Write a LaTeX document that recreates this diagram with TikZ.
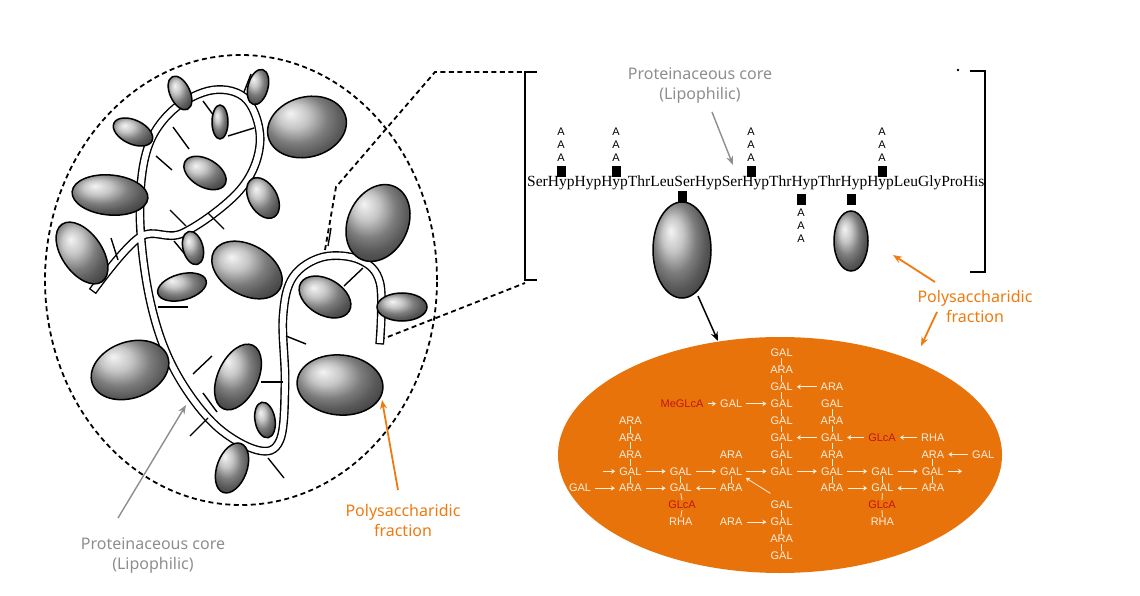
\documentclass[tikz,border=0pt]{standalone}
\usepackage{fontspec}
\setmainfont{Liberation Serif}
\newfontfamily\lab{Noto Sans}
\newfontfamily\sug{Liberation Sans}
\usetikzlibrary{shapes.geometric,arrows.meta}
\definecolor{lgray}{HTML}{8E8E8E}
\definecolor{orng}{HTML}{EE7A10}
\definecolor{oell}{HTML}{E8730B}
\definecolor{cream}{HTML}{FDEEDD}
\definecolor{dred}{HTML}{C0160C}
\tikzset{
 blob/.style={ellipse,draw=black,line width=1.5pt,shading=ball,ball color=gray!60,inner sep=0pt},
 tick/.style={line width=1.4pt},
 dsh/.style={line width=1.8pt,dash pattern=on 5pt off 3.5pt},
 sq/.style={fill=black,minimum width=9pt,minimum height=11pt,inner sep=0pt},
 aa/.style={font=\sug\fontsize{11}{11}\selectfont,inner sep=0pt},
 glab/.style={font=\lab\fontsize{16}{20}\selectfont,text=lgray,align=center},
 olab/.style={font=\lab\fontsize{16}{20}\selectfont,text=orng,align=center},
 sg/.style={font=\sug\fontsize{11}{11}\selectfont,text=cream,inner sep=1pt},
 sr/.style={font=\sug\fontsize{11}{11}\selectfont,text=dred,inner sep=1pt},
 sa/.style={-{Stealth[length=4pt,width=5pt]},cream,line width=1pt,shorten >=3pt,shorten <=3pt},
}
\begin{document}
\begin{tikzpicture}[x=1pt,y=-1pt]
\useasboundingbox (0,0) rectangle (1140,596);
% left dashed circle
\node[ellipse,draw,dsh,minimum width=392pt,minimum height=450pt] (circ) at (241,280) {};
% zoom lines
\coordinate (z1) at (336,187);
\coordinate (z2) at (435,72);
\coordinate (z3) at (380,340);
\draw[dsh] (325,250) -- (z1) -- (z2) -- (525,72);
\draw[dsh] (z3) -- (525,283);
% tube
\draw[line width=1.4pt,double=white,double distance=6pt,line cap=rect]
 plot[smooth,tension=0.6] coordinates {(95,288) (140,237) (183,233) (240,190) (260,143) (247,100) (213,90) (173,110) (147,150) (140,217) (150,300) (173,367) (213,423) (257,450) (280,440) (285,383) (283,317) (293,277) (323,257) (360,260) (380,283) (380,340)};
% ticks
\foreach \a/\b in {{(173,127)}/{(189,149)},{(156,156)}/{(172,170)},{(228,136)}/{(254,128)},{(170,210)}/{(186,226)},{(208,213)}/{(224,229)},{(174,241)}/{(188,258)},{(158,307)}/{(188,307)},{(193,374)}/{(212,356)},{(190,436)}/{(208,418)},{(261,382)}/{(283,382)},{(286,336)}/{(306,344)},{(268,458)}/{(284,478)},{(328,246)}/{(331,228)},{(344,286)}/{(363,268)},{(111,238)}/{(118,260)},{(203,101)}/{(217,120)},{(244,92)}/{(251,74)},{(203,393)}/{(217,412)}}
 \draw[tick] \a -- \b;
% blobs
\node[blob,minimum width=20pt,minimum height=36pt,rotate=25] (b1) at (180,93) {};
\node[blob,minimum width=20pt,minimum height=36pt,rotate=-15] (b2) at (258,87) {};
\node[blob,minimum width=42pt,minimum height=24pt,rotate=-25] (b3) at (133,132) {};
\node[blob,minimum width=16pt,minimum height=34pt] (b4) at (220,122) {};
\node[blob,minimum width=80pt,minimum height=60pt,rotate=15] (b5) at (307,127) {};
\node[blob,minimum width=46pt,minimum height=28pt,rotate=-30] (b6) at (205,173) {};
\node[blob,minimum width=76pt,minimum height=40pt,rotate=-5] (b7) at (110,195) {};
\node[blob,minimum width=28pt,minimum height=44pt,rotate=30] (b8) at (263,198) {};
\node[blob,minimum width=40pt,minimum height=70pt,rotate=35] (b9) at (82,253) {};
\node[blob,minimum width=20pt,minimum height=34pt,rotate=15] (b10) at (193,248) {};
\node[blob,minimum width=76pt,minimum height=50pt,rotate=-30] (b11) at (247,270) {};
\node[blob,minimum width=50pt,minimum height=26pt,rotate=15] (b12) at (182,287) {};
\node[blob,minimum width=60pt,minimum height=80pt,rotate=-25] (b13) at (378,223) {};
\node[blob,minimum width=56pt,minimum height=36pt,rotate=-30] (b14) at (325,297) {};
\node[blob,minimum width=50pt,minimum height=28pt] (b15) at (402,307) {};
\node[blob,minimum width=80pt,minimum height=56pt,rotate=20] (b16) at (130,370) {};
\node[blob,minimum width=40pt,minimum height=70pt,rotate=-25] (b17) at (238,377) {};
\node[blob,minimum width=86pt,minimum height=60pt,rotate=-5] (b18) at (340,385) {};
\node[blob,minimum width=20pt,minimum height=36pt,rotate=10] (b19) at (265,420) {};
\node[blob,minimum width=30pt,minimum height=52pt,rotate=-20] (b20) at (232,468) {};
% left labels
\node[glab] (lp) at (153,556) {Proteinaceous core\\(Lipophilic)};
\node[olab] (lo) at (403,520) {Polysaccharidic\\fraction};
\draw[-{Stealth[length=9pt,width=7pt]},lgray,line width=1.4pt] (118,518) -- (186,405);
\draw[-{Stealth[length=9pt,width=7pt]},orng,line width=1.8pt] (398,490) -- (382,400);
% brackets
\draw[line width=1.8pt] (537,72) -- (525,72) -- (525,280) -- (537,280);
\draw[line width=1.8pt] (970,71) -- (985,71) -- (985,272) -- (970,272);
\fill (958,70) circle (1.3pt);
% peptide
\node[anchor=base west,inner sep=0pt,font=\fontsize{15.5}{17}\selectfont] (pep) at (527,187) {SerHypHypHypThrLeuSerHypSerHypThrHypThrHypHypLeuGlyProHis};
\foreach \x/\n in {561/a,616/b,751/c,882/d}{
 \node[sq] (q\n) at (\x,172) {};
 \foreach \y/\k in {158/1,145/2,132/3} \node[aa] (a\n\k) at (\x,\y) {A};
}
\node[sq] (qe) at (682,197) {};
\node[sq] (qf) at (801,200) {};
\node[sq] (qg) at (851,200) {};
\foreach \y/\k in {213/1,226/2,239/3} \node[aa] (af\k) at (801,\y) {A};
\node[blob,minimum width=58pt,minimum height=96pt] (be) at (682,250) {};
\node[blob,minimum width=34pt,minimum height=60pt] (bg) at (851,241) {};
\node[glab] (tp) at (700,86) {Proteinaceous core\\(Lipophilic)};
\draw[-{Stealth[length=9pt,width=7pt]},lgray,line width=1.4pt] (712,112) -- (733,165);
\node[olab] (to) at (975,306) {Polysaccharidic\\fraction};
\draw[-{Stealth[length=9pt,width=7pt]},orng,line width=1.8pt] (935,282) -- (893,255);
\draw[-{Stealth[length=9pt,width=7pt]},orng,line width=1.8pt] (937,312) -- (921,346);
% orange ellipse
\node[ellipse,fill=oell,minimum width=444pt,minimum height=236pt,inner sep=0pt] (oe) at (780,455) {};
\coordinate (bs) at (698,296);
\draw[-{Stealth[length=9pt,width=7pt]},line width=1.5pt] (bs) -- (718,341);
% sugars
\foreach \c/\r/\t in {4/0/GAL,4/1/ARA,4/2/GAL,4/3/GAL,4/4/GAL,4/5/GAL,4/6/GAL,4/7/GAL,4/9/GAL,4/10/GAL,4/11/ARA,4/12/GAL,
 5/2/ARA,5/3/GAL,5/4/ARA,5/5/GAL,5/6/ARA,5/7/GAL,5/8/ARA,
 3/3/GAL,1/4/ARA,1/5/ARA,1/6/ARA,1/7/GAL,1/8/ARA,0/8/GAL,
 2/7/GAL,2/8/GAL,2/10/RHA,3/6/ARA,3/7/GAL,3/8/ARA,3/10/ARA,
 6/7/GAL,6/8/GAL,6/10/RHA,7/5/RHA,7/6/ARA,7/7/GAL,7/8/ARA,8/6/GAL}
 \node[sg] (s\c-\r) at ({580+50.4*\c},{353+16.9*\r}) {\t};
\node[sr] (s2-3) at (682,{353+16.9*3}) {MeGLcA};
\node[sr] (s2-9) at (682,{353+16.9*9}) {GLcA};
\node[sr] (s6-5) at (882,{353+16.9*5}) {GLcA};
\node[sr] (s6-9) at (882,{353+16.9*9}) {GLcA};
% vertical links
\foreach \c/\a/\b in {4/0/1,4/1/2,4/2/3,4/3/4,4/4/5,4/5/6,4/6/7,4/9/10,4/10/11,4/11/12,5/3/4,5/4/5,5/5/6,5/6/7,5/7/8,1/4/5,1/5/6,1/6/7,1/7/8,2/7/8,2/8/9,2/9/10,3/7/8,6/7/8,6/8/9,6/9/10,7/6/7,7/7/8}
 \draw[cream,line width=0.8pt] (s\c-\a.south) -- (s\c-\b.north);
% horizontal arrows
\foreach \p/\q in {5-2/4-2,2-3/3-3,3-3/4-3,5-5/4-5,6-5/5-5,7-5/6-5,8-6/7-6,1-7/2-7,2-7/3-7,3-7/4-7,4-7/5-7,5-7/6-7,6-7/7-7,0-8/1-8,1-8/2-8,3-8/2-8,5-8/6-8,7-8/6-8,3-10/4-10}
 \draw[sa] (s\p) -- (s\q);
\coordinate (in7) at (603,{353+16.9*7});
\coordinate (out7) at (962,{353+16.9*7});
\draw[sa,shorten <=0pt] (in7) -- (s1-7);
\draw[sa,shorten >=0pt] (s7-7) -- (out7);
\coordinate (dg) at (773,495);
\draw[sa,line width=0.8pt] (dg) -- (s3-7.south east);
\end{tikzpicture}
\end{document}
